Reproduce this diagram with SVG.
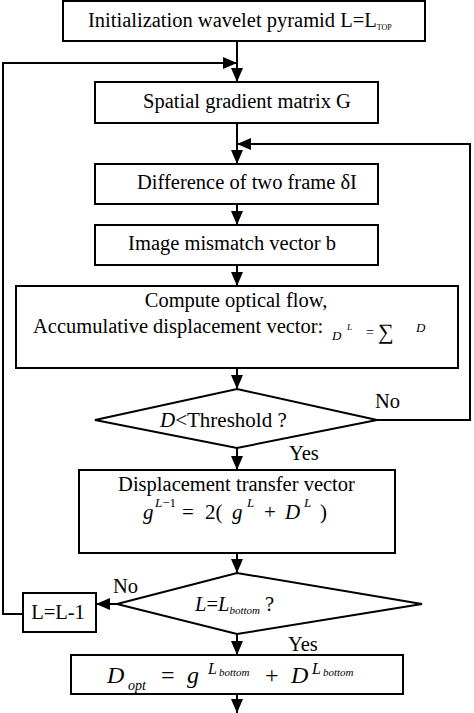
<svg xmlns="http://www.w3.org/2000/svg" width="474" height="713" viewBox="0 0 474 713">
<style>
.box{fill:#fff;stroke:#000;stroke-width:2}
.ln{fill:none;stroke:#000;stroke-width:2}
.t{font-family:'Liberation Serif','DejaVu Serif',serif;fill:#000}
.m{font-size:20.5px}
.it{font-style:italic}
.up{font-style:normal}
.c{text-anchor:middle}
</style>
<defs>
<marker id="ah" markerWidth="14" markerHeight="12" refX="14" refY="6" orient="auto" markerUnits="userSpaceOnUse">
<path d="M0,0 L14,6 L0,12 Z" fill="#000"/>
</marker>
</defs>
<rect width="474" height="713" fill="#fff"/>
<g id="connectors">
<path class="ln" d="M237,41 V82" marker-end="url(#ah)"/>
<path class="ln" d="M23,614 H3 V63 H237" marker-end="url(#ah)"/>
<path class="ln" d="M237,123 V164" marker-end="url(#ah)"/>
<path class="ln" d="M377,420 H470 V144 H237" marker-end="url(#ah)"/>
<path class="ln" d="M237,204 V225" marker-end="url(#ah)"/>
<path class="ln" d="M237,265 V286" marker-end="url(#ah)"/>
<path class="ln" d="M237,368 V389" marker-end="url(#ah)"/>
<path class="ln" d="M237,448 V470" marker-end="url(#ah)"/>
<path class="ln" d="M237,553 V573" marker-end="url(#ah)"/>
<path class="ln" d="M117,604 H96" marker-end="url(#ah)"/>
<path class="ln" d="M237,634 V655" marker-end="url(#ah)"/>
<path class="ln" d="M237,694 V713" marker-end="url(#ah)"/>
<text class="t m" x="375" y="408">No</text>
<text class="t m" x="289" y="460">Yes</text>
<text class="t m" x="113" y="593">No</text>
<text class="t m" x="288" y="651">Yes</text>
</g>
<g id="init">
<rect class="box" x="63" y="1" width="362" height="40"/>
<text class="t m" x="88" y="27">Initialization wavelet pyramid L=L<tspan style="font-size:8px" dy="3">TOP</tspan></text>
</g>
<g id="spatial">
<rect class="box" x="95" y="82" width="283" height="41"/>
<text class="t m c" x="247" y="108">Spatial gradient matrix G</text>
</g>
<g id="difference">
<rect class="box" x="95" y="164" width="283" height="40"/>
<text class="t m c" x="247" y="189">Difference of two frame δI</text>
</g>
<g id="mismatch">
<rect class="box" x="95" y="225" width="283" height="40"/>
<text class="t m c" x="232" y="250">Image mismatch vector b</text>
</g>
<g id="compute">
<rect class="box" x="16" y="286" width="442" height="82"/>
<text class="t m c" x="236" y="307">Compute optical flow,</text>
<text class="t m" x="33" y="333">Accumulative displacement vector:</text>
<text class="t" x="332" y="340" style="font-size:13px"><tspan class="it">D</tspan><tspan class="it" x="347" y="330" style="font-size:9px">L</tspan><tspan x="366" y="337" style="font-size:14px">=</tspan><tspan x="378" y="339" style="font-size:22px">∑</tspan><tspan class="it" x="416" y="332">D</tspan></text>
</g>
<g id="threshold">
<path class="box" d="M237,389 L377,420 L237,448 L95,420 Z"/>
<text class="t" x="160" y="427" style="font-size:21px"><tspan class="it">D</tspan>&lt;Threshold ?</text>
</g>
<g id="transfer">
<rect class="box" x="79" y="470" width="316" height="83"/>
<text class="t m c" x="236.5" y="491">Displacement transfer vector</text>
<text class="t" x="143" y="519" style="font-size:21px"><tspan class="it">g</tspan><tspan class="it" x="155" y="507" style="font-size:13px">L<tspan class="up">−1</tspan></tspan><tspan x="182" y="519">=</tspan><tspan x="205" y="519">2(</tspan><tspan class="it" x="232" y="519">g</tspan><tspan class="it" x="247" y="507" style="font-size:13px">L</tspan><tspan x="264" y="519">+</tspan><tspan class="it" x="285" y="519">D</tspan><tspan class="it" x="304" y="507" style="font-size:13px">L</tspan><tspan x="320" y="519">)</tspan></text>
</g>
<g id="bottom-check">
<path class="box" d="M237,573 L422,604 L237,634 L117,604 Z"/>
<text class="t m" x="195" y="611"><tspan class="it">L</tspan>=<tspan class="it">L</tspan><tspan class="it" style="font-size:11px" dy="3">bottom</tspan><tspan dy="-3"> ?</tspan></text>
</g>
<g id="decrement">
<rect class="box" x="23" y="593" width="73" height="39"/>
<text class="t m c" x="58" y="619">L=L-1</text>
</g>
<g id="result">
<rect class="box" x="71" y="655" width="332" height="39"/>
<text class="t" x="107" y="683" style="font-size:24px"><tspan class="it">D</tspan><tspan class="it" x="128" y="690" style="font-size:14px">opt</tspan><tspan x="161" y="683">=</tspan><tspan class="it" x="187" y="683">g</tspan><tspan class="it" x="208" y="674" style="font-size:16px">L</tspan><tspan class="it" x="219" y="676" style="font-size:11px">bottom</tspan><tspan x="265" y="683">+</tspan><tspan class="it" x="291" y="683">D</tspan><tspan class="it" x="312" y="674" style="font-size:16px">L</tspan><tspan class="it" x="323" y="676" style="font-size:11px">bottom</tspan></text>
</g>
</svg>
